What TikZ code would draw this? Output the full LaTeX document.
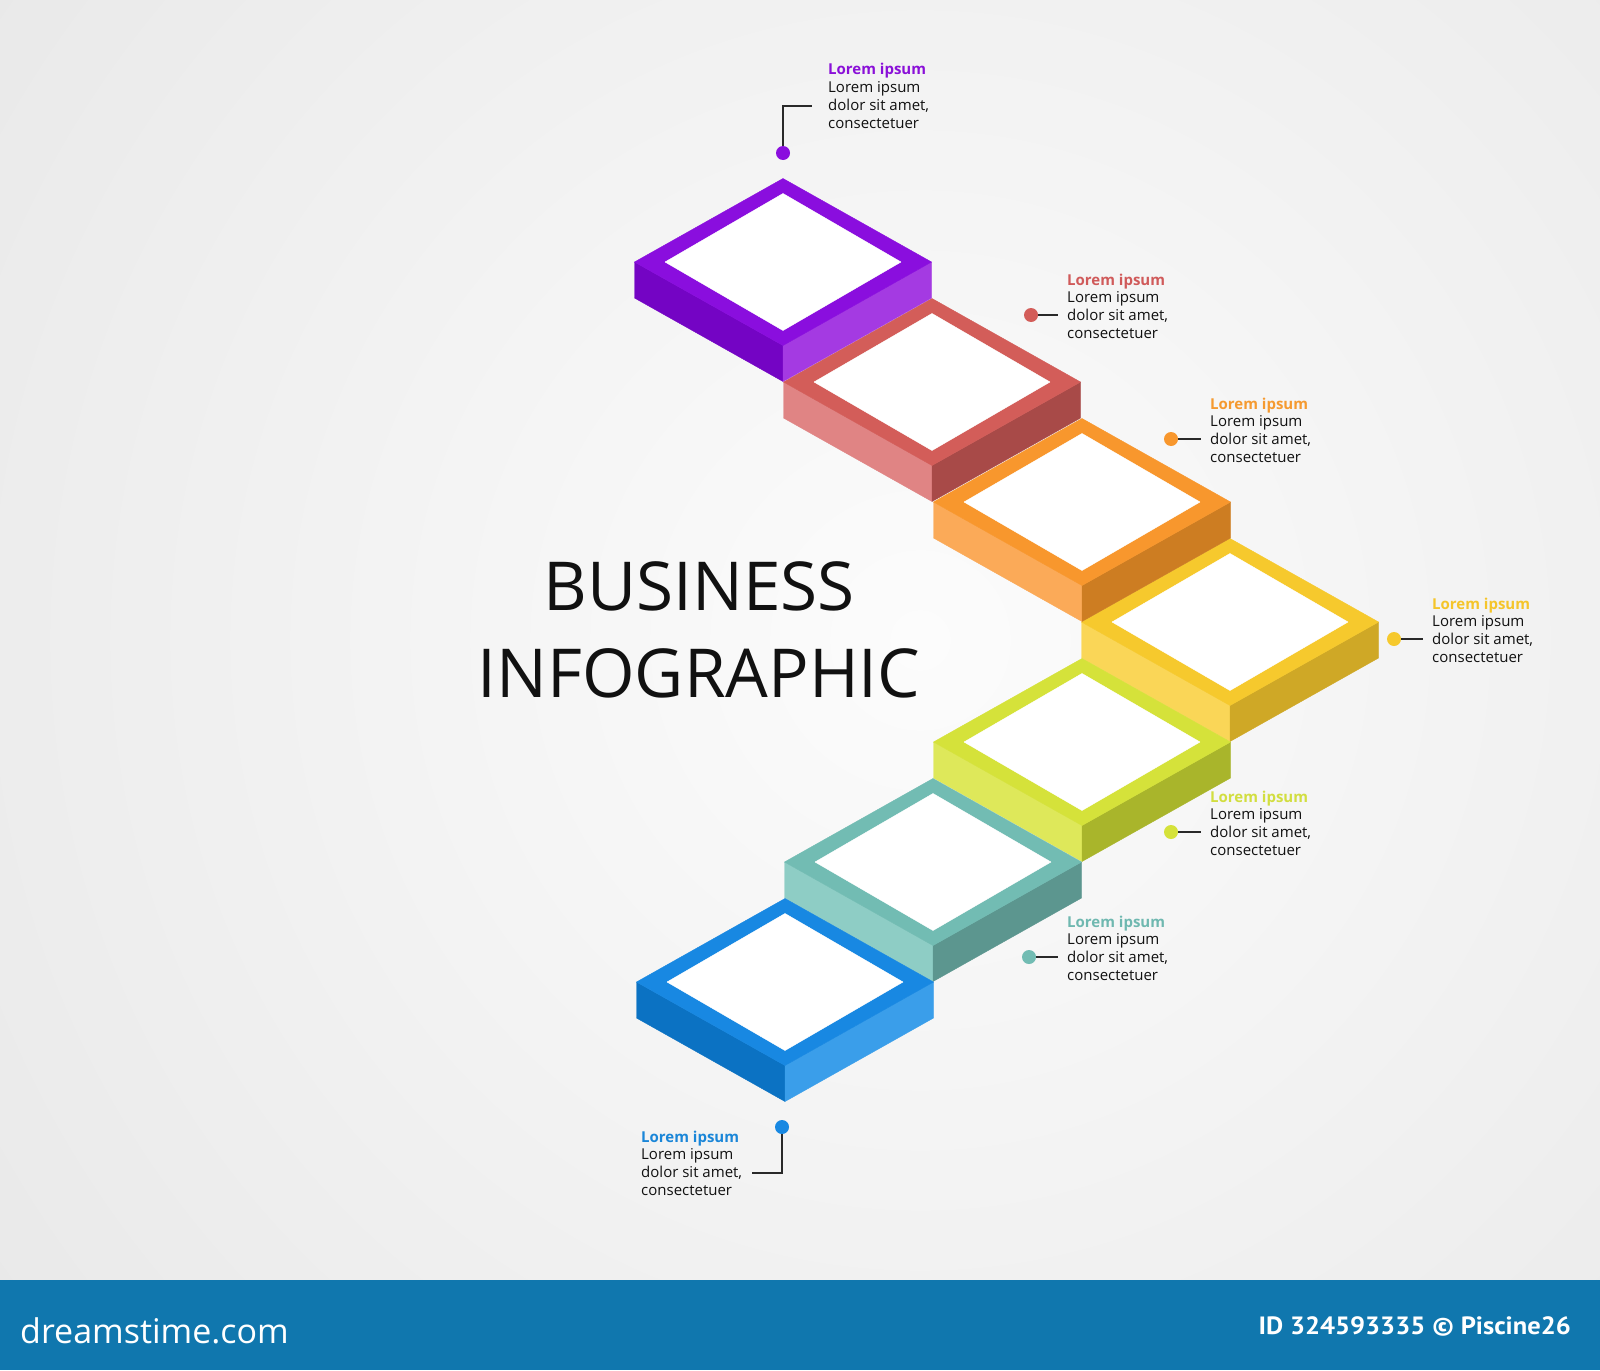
\documentclass[tikz,border=0pt]{standalone}
\usepackage{fontspec}
\setmainfont{Open Sans}
\newfontfamily\barfont{PT Sans}
\definecolor{bgout}{HTML}{E3E3E3}
\definecolor{bgin}{HTML}{FCFCFC}
\definecolor{barblue}{HTML}{1077AE}
\definecolor{ink}{HTML}{111111}
% block colours: top / left side / right side
\definecolor{puT}{HTML}{8A0EDE}\definecolor{puL}{HTML}{7404C4}\definecolor{puR}{HTML}{A43AE2}
\definecolor{reT}{HTML}{D35D59}\definecolor{reL}{HTML}{E08484}\definecolor{reR}{HTML}{A84A48}
\definecolor{orT}{HTML}{F8972D}\definecolor{orL}{HTML}{FBAA58}\definecolor{orR}{HTML}{CD7D22}
\definecolor{yeT}{HTML}{F6C92D}\definecolor{yeL}{HTML}{FAD657}\definecolor{yeR}{HTML}{CFA826}
\definecolor{liT}{HTML}{D5E23A}\definecolor{liL}{HTML}{DEE85A}\definecolor{liR}{HTML}{A9B52B}
\definecolor{teT}{HTML}{72BCB3}\definecolor{teL}{HTML}{8ECDC5}\definecolor{teR}{HTML}{5C968F}
\definecolor{blT}{HTML}{1888E2}\definecolor{blL}{HTML}{0B72C3}\definecolor{blR}{HTML}{3A9EEA}
% label title colours
\definecolor{puX}{HTML}{8A10D8}\definecolor{reX}{HTML}{D05A5A}\definecolor{orX}{HTML}{F59A30}
\definecolor{yeX}{HTML}{F5C52A}\definecolor{liX}{HTML}{D2DE40}\definecolor{teX}{HTML}{6FB8B0}
\definecolor{blX}{HTML}{1A86D8}

\tikzset{
  face/.style={fill=#1, draw=#1, line width=0.4pt, line join=round},
  lbltxt/.style={inner sep=0pt, text=ink, font=\fontsize{15}{17}\selectfont},
  lblhead/.style={inner sep=0pt, text=#1, font=\fontsize{15}{17}\selectfont\bfseries},
  dotnode/.style={circle, inner sep=0pt, minimum size=14pt, fill=#1, draw=none},
  conn/.style={draw=ink!90, line width=1.5pt},
}

% #1 cx, #2 cy, #3 prefix of colours
\newcommand\isoblock[3]{%
  \path[face=#3L] ({#1-148.5},{#2}) -- ({#1},{#2+83.5}) -- ({#1},{#2+119.5}) -- ({#1-148.5},{#2+36}) -- cycle;
  \path[face=#3R] ({#1},{#2+83.5}) -- ({#1+148.5},{#2}) -- ({#1+148.5},{#2+36}) -- ({#1},{#2+119.5}) -- cycle;
  \path[face=#3T] ({#1},{#2-83.5}) -- ({#1+148.5},{#2}) -- ({#1},{#2+83.5}) -- ({#1-148.5},{#2}) -- cycle;
  \path[face=white] ({#1},{#2-68.5}) -- ({#1+118},{#2}) -- ({#1},{#2+68.5}) -- ({#1-118},{#2}) -- cycle;
}
% #1 name, #2 x, #3 title baseline y, #4 title colour
\newcommand\infolabel[4]{%
  \node[lblhead=#4, anchor=base west] (#1t) at (#2,#3) {Lorem ipsum};
  \node[lbltxt, anchor=base west] (#1a) at (#2,{#3+17.7}) {Lorem ipsum};
  \node[lbltxt, anchor=base west] (#1b) at (#2,{#3+35.4}) {dolor sit amet,};
  \node[lbltxt, anchor=base west] (#1c) at (#2,{#3+53.1}) {consectetuer};
}

\begin{document}
\begin{tikzpicture}[x=1pt,y=-1pt]
\useasboundingbox (0,0) rectangle (1600,1370);
% background
\begin{scope}
  \clip (0,0) rectangle (1600,1280);
  \fill[bgout] (0,0) rectangle (1600,1280);
  \shade[inner color=bgin, outer color=bgout] (920,640) circle (1500);
\end{scope}
% bottom bar
\fill[barblue] (0,1280) rectangle (1600,1370);
\node[anchor=base west, inner sep=0pt, text=white, font=\fontsize{34}{38}\selectfont] (logo) at (20,1343) {dreamstime.com};
\node[anchor=base east, inner sep=0pt, text=white, font=\barfont\bfseries\fontsize{25}{28}\selectfont] (credit) at (1571,1334) {\scalebox{1.06}[1]{ID 324593335 © Piscine26}};

% title
\node[anchor=base, inner sep=0pt, text=ink, font=\fontsize{67.5}{72}\selectfont] (title1) at (699,610) {BUSINESS};
\node[anchor=base, inner sep=0pt, text=ink, font=\fontsize{67.5}{72}\selectfont] (title2) at (699,697) {INFOGRAPHIC};

% blocks (back to front)
\isoblock{1230}{622}{ye}
\isoblock{1082}{502}{or}
\isoblock{932}{382}{re}
\isoblock{783}{262}{pu}
\isoblock{1082}{742}{li}
\isoblock{933}{862}{te}
\isoblock{785}{982}{bl}

% labels
\infolabel{pu}{828}{75}{puX}
\infolabel{re}{1067}{285}{reX}
\infolabel{or}{1210}{409}{orX}
\infolabel{ye}{1432}{609}{yeX}
\infolabel{li}{1210}{802}{liX}
\infolabel{te}{1067}{927}{teX}
\infolabel{bl}{641}{1142}{blX}

% dots and leaders
\node[dotnode=puT] (pudot) at (783,153) {};
\coordinate (puend) at (812,106);
\draw[conn] (pudot) |- (puend);

\node[dotnode=reT] (redot) at (1031,315) {};
\coordinate (reend) at (1058,315);
\draw[conn] (redot) -- (reend);

\node[dotnode=orT] (ordot) at (1171,439) {};
\coordinate (orend) at (1201,439);
\draw[conn] (ordot) -- (orend);

\node[dotnode=yeT] (yedot) at (1394,639) {};
\coordinate (yeend) at (1423,639);
\draw[conn] (yedot) -- (yeend);

\node[dotnode=liT] (lidot) at (1171,832) {};
\coordinate (liend) at (1201,832);
\draw[conn] (lidot) -- (liend);

\node[dotnode=teT] (tedot) at (1029,957) {};
\coordinate (teend) at (1058,957);
\draw[conn] (tedot) -- (teend);

\node[dotnode=blT] (bldot) at (782,1127) {};
\coordinate (blend) at (752,1173);
\draw[conn] (bldot) |- (blend);
\end{tikzpicture}
\end{document}
